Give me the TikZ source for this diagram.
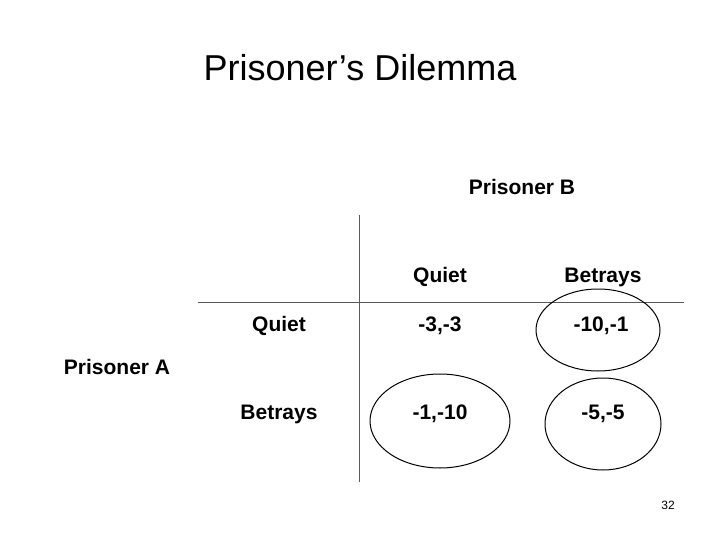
\documentclass[tikz,border=0pt]{standalone}
\usepackage{fontspec}
\setmainfont{Liberation Sans}
\begin{document}
\begin{tikzpicture}[x=1pt,y=-1pt,
  lbl/.style={font=\fontsize{21}{24}\selectfont\bfseries,inner sep=0pt},
  ring/.style={draw,line width=1pt,ellipse}]
\useasboundingbox (0,0) rectangle (720,540);
\node[font=\fontsize{36}{40}\selectfont] (title) at (360,68) {Prisoner’s Dilemma};
\node[lbl] (pb) at (522,187) {Prisoner B};
\node[lbl] (cq) at (440,277) {Quiet};
\node[lbl] (cb) at (603,277) {Betrays};
\node[lbl] (rq) at (279,326) {Quiet};
\node[lbl] (rb) at (279,414) {Betrays};
\node[lbl] (pa) at (117,367) {Prisoner A};
\node[lbl] (a) at (440,326) {-3,-3};
\node[lbl] (b) at (601,326) {-10,-1};
\node[lbl] (c) at (440,414) {-1,-10};
\node[lbl] (d) at (603,414) {-5,-5};
\node[font=\fontsize{12}{14}\selectfont] (pg) at (668,505) {32};
\coordinate (vt) at (359,215); \coordinate (vb) at (359,482);
\coordinate (hl) at (198,302); \coordinate (hr) at (684,302);
\draw[line width=0.8pt,gray!70!black] (vt) -- (vb);
\draw[line width=0.8pt,gray!70!black] (hl) -- (hr);
\draw[line width=1pt] (598,330) ellipse [x radius=62,y radius=41];
\draw[line width=1pt] (440,421) ellipse [x radius=70,y radius=47];
\draw[line width=1pt] (603,424) ellipse [x radius=58,y radius=46];
\end{tikzpicture}
\end{document}
